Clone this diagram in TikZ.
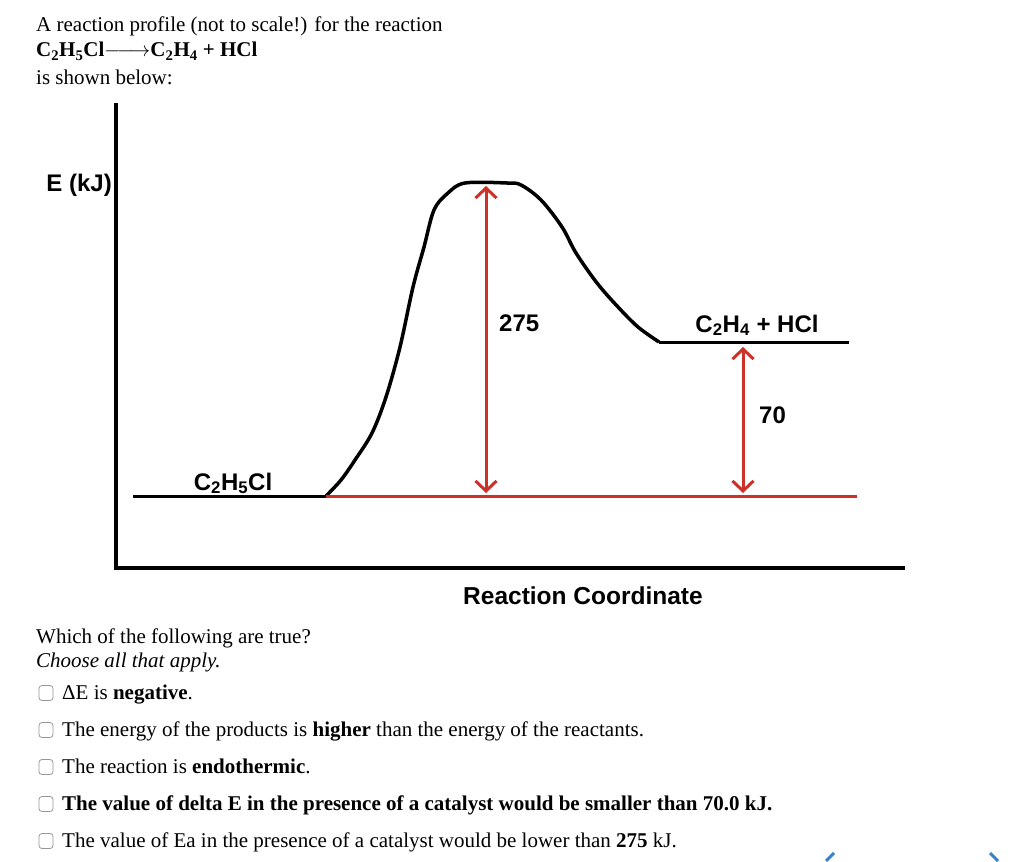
\documentclass[tikz,border=0pt]{standalone}
\usepackage{fontspec}
\setmainfont{Liberation Serif}
\newfontfamily\diagfont{Liberation Sans}
\usetikzlibrary{arrows.meta}
\definecolor{barred}{RGB}{204,50,40}
\definecolor{boxgray}{RGB}{150,150,150}
\definecolor{navblue}{RGB}{60,130,200}
\begin{document}
\begin{tikzpicture}[x=1pt,y=-1pt,
  txt/.style={anchor=base west,inner sep=0pt,font=\fontsize{21}{25}\selectfont},
  lbl/.style={inner sep=0pt,font=\diagfont\bfseries\fontsize{24}{30}\selectfont},
  axis/.style={line width=4pt},
  level/.style={line width=3pt},
  gap/.style={color=barred,line width=3pt,
    {Straight Barb[length=10pt,width=21pt]}-{Straight Barb[length=10pt,width=21pt]}},
  tickbox/.style={draw=boxgray,rounded corners=3pt,line width=0.8pt,
    minimum width=14pt,minimum height=15pt,inner sep=0pt}]
  \useasboundingbox (0,0) rectangle (1024,861);
  % question text
  \node[txt] (intro) at (36,32) {A reaction profile (not to scale!) for the reaction};
  \node[txt] (eqn) at (36,57) {\bfseries C\textsubscript{2}H\textsubscript{5}Cl$\relbar\joinrel\longrightarrow$C\textsubscript{2}H\textsubscript{4} + HCl};
  \node[txt] (below) at (36,85) {is shown below:};
  % axes
  \coordinate (ytop) at (116,103);
  \coordinate (origin) at (116,568);
  \coordinate (xend) at (905,568);
  \draw[axis] (ytop) -- (origin) -- (xend);
  \node[lbl,anchor=base east] (ylab) at (112,191) {E (kJ)};
  \node[lbl,anchor=base,font=\diagfont\bfseries\fontsize{24.5}{30}\selectfont] (xlab) at (583,604) {Reaction Coordinate};
  % energy levels
  \coordinate (rstart) at (133,496);
  \coordinate (rend) at (326,496);
  \coordinate (pstart) at (659,342);
  \coordinate (pend) at (849,342);
  \coordinate (bend) at (857,496);
  \draw[level] (rstart) -- (rend);
  \draw[level,line width=3.5pt] plot[smooth,tension=0.55] coordinates {(326,496) (341,480) (355,460)
    (372,433) (386,397) (400,347) (413,287) (424,247) (434,210) (448,193) (465,183)
    (507,183) (521,185) (541,200) (562,227) (576,253) (597,283) (618,307) (638,327)
    (659,342)};
  \draw[level] (pstart) -- (pend);
  \draw[level,color=barred] (rend) -- (bend);
  \node[lbl,anchor=base] (react) at (233,490) {C\textsubscript{2}H\textsubscript{5}Cl};
  \node[lbl,anchor=base] (prod) at (757,332) {C\textsubscript{2}H\textsubscript{4} + HCl};
  % red arrows
  \coordinate (eatop) at (486,186);
  \coordinate (eabot) at (486,493);
  \coordinate (detop) at (743,347);
  \coordinate (debot) at (743,493);
  \draw[gap] (eatop) -- (eabot);
  \draw[gap] (detop) -- (debot);
  \node[lbl,anchor=base west] (ea) at (499,331) {275};
  \node[lbl,anchor=base west] (de) at (759,423) {70};
  % choices
  \node[txt] (ask) at (36,643) {Which of the following are true?};
  \node[txt] (hint) at (36,667) {\itshape Choose all that apply.};
  \foreach \y [count=\i] in {693,730,767,804,841}
    \node[tickbox] (cb\i) at (46,\y) {};
  \node[txt] (opt1) at (62,699) {ΔE is \textbf{negative}.};
  \node[txt] (opt2) at (62,736) {The energy of the products is \textbf{higher} than the energy of the reactants.};
  \node[txt] (opt3) at (62,773) {The reaction is \textbf{endothermic}.};
  \node[txt] (opt4) at (62,810) {\bfseries The value of delta E in the presence of a catalyst would be smaller than 70.0 kJ.};
  \node[txt] (opt5) at (62,847) {The value of Ea in the presence of a catalyst would be lower than \textbf{275} kJ.};
  % cut-off nav marks
  \draw[navblue,line width=3pt] (834,853) -- (826,861);
  \draw[navblue,line width=3pt] (990,853) -- (998,861);
\end{tikzpicture}
\end{document}
